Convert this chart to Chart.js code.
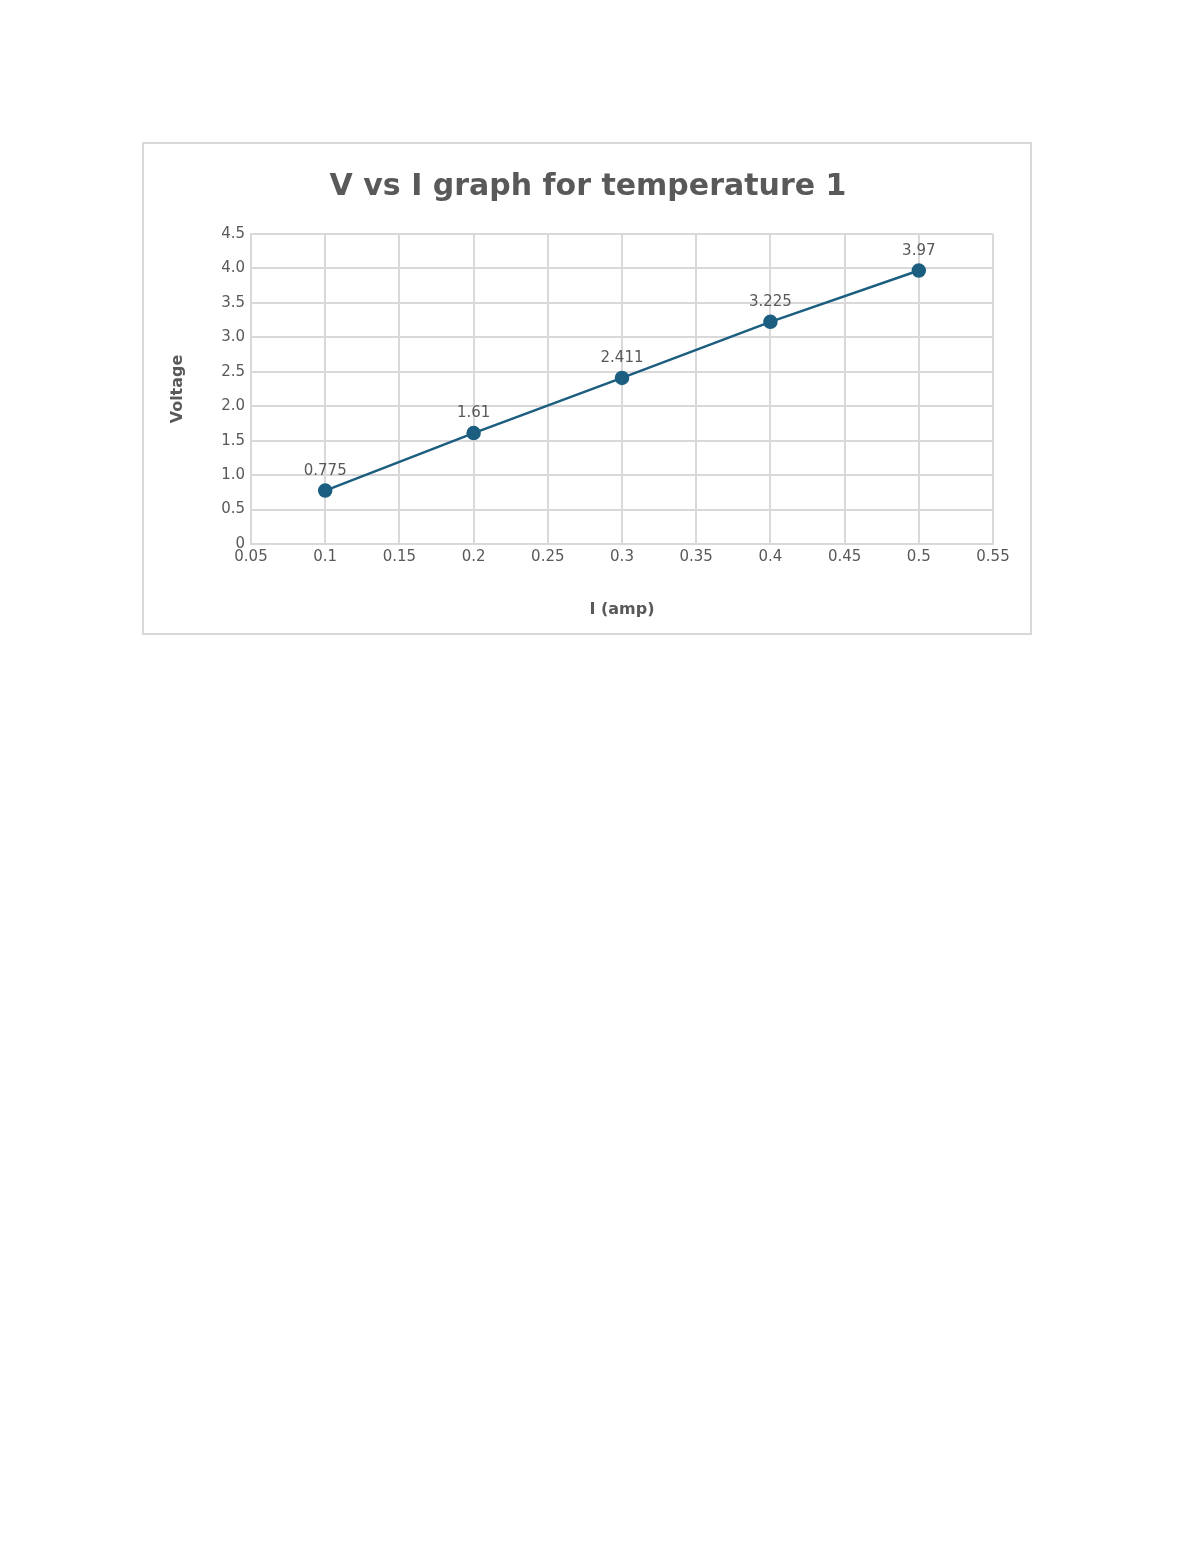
<!DOCTYPE html>
<html><head><meta charset="utf-8">
<script src="https://cdn.jsdelivr.net/npm/chart.js@4"></script>
<style>
body{margin:0;background:#fff;width:1200px;height:1553px;position:relative}
#box{position:absolute;left:142px;top:142px;width:886px;height:489px;border:2px solid #d9d9d9;background:#fff}
</style></head><body>
<div id="box"><canvas id="c" width="886" height="489"></canvas></div>
<script>
const currents=[0.1,0.2,0.3,0.4,0.5];
const voltages=[0.775,1.61,2.411,3.225,3.97];
const labels=["0.775","1.61","2.411","3.225","3.97"];
const titleText="V vs I graph for temperature 1";
const font="DejaVu Sans";
const grey="#595959";
const lineColor="#1b5e80";
const dl={id:"dl",afterDatasetsDraw(ch){
  const c=ch.ctx,m=ch.getDatasetMeta(0);
  c.save();c.font="15px "+font;c.fillStyle=grey;c.textAlign="center";c.textBaseline="bottom";
  m.data.forEach((p,i)=>c.fillText(labels[i],p.x,p.y-12));
  c.font="bold 30px "+font;c.textBaseline="middle";
  c.fillText(titleText,ch.width/2+1,43);
  c.restore();}};
new Chart(document.getElementById("c"),{type:"scatter",
data:{datasets:[{data:currents.map((x,i)=>({x,y:voltages[i]})),showLine:true,borderColor:lineColor,backgroundColor:lineColor,borderWidth:2.5,pointRadius:6,pointHoverRadius:6}]},
options:{responsive:false,animation:false,devicePixelRatio:1,
layout:{padding:{left:20,right:37,top:90,bottom:10}},
plugins:{legend:{display:false},tooltip:{enabled:false}},
scales:{
x:{min:0.05,max:0.55,ticks:{stepSize:0.05,color:grey,font:{family:font,size:15},padding:4,callback:v=>+v.toFixed(2)},
 grid:{color:"#d9d9d9",lineWidth:2,drawTicks:false},border:{color:"#d9d9d9",width:2},
 title:{display:true,text:"I (amp)",color:grey,font:{family:font,size:16,weight:"bold"},padding:{top:12}},
 afterFit:s=>{s.height=79}},
y:{min:0,max:4.5,ticks:{stepSize:0.5,color:grey,font:{family:font,size:15},padding:6},
 grid:{color:"#d9d9d9",lineWidth:2,drawTicks:false},border:{color:"#d9d9d9",width:2},
 title:{display:true,text:"Voltage",color:grey,font:{family:font,size:16,weight:"bold"},padding:{bottom:14}},
 afterFit:s=>{s.width=87}}}},
plugins:[dl]});
</script></body></html>
